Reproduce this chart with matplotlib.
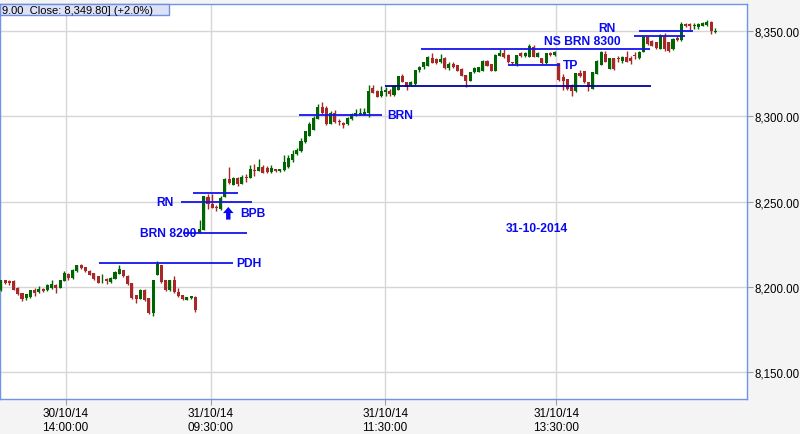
import matplotlib
matplotlib.use("Agg")
import matplotlib.pyplot as plt
import matplotlib.font_manager as fm
from matplotlib.patches import Rectangle

names = {f.name for f in fm.fontManager.ttflist}
narrow = 'Liberation Sans Narrow' if 'Liberation Sans Narrow' in names else 'Liberation Sans'

# 3-minute candles, 30/10/14 afternoon then 31/10/14
opens = [8197.9, 8203.7, 8203.3, 8203.3, 8199.2, 8196.3, 8193.4, 8194.0, 8197.9, 8196.9,
         8198.8, 8197.9, 8199.4, 8201.2, 8199.2, 8203.3, 8207.2, 8205.1, 8209.0, 8212.5,
         8211.5, 8209.0, 8208.0, 8206.1, 8203.7, 8204.7, 8202.7, 8204.7, 8207.6, 8209.6,
         8206.1, 8202.2, 8194.9, 8193.0, 8198.4, 8193.4, 8184.8, 8207.1, 8212.9, 8203.7,
         8197.9, 8203.7, 8196.9, 8194.9, 8192.4, 8193.6, 8194.2,
         8231.4, 8233.3, 8252.7, 8248.8, 8246.4, 8245.5, 8252.7, 8263.1, 8259.7, 8263.6,
         8260.5, 8264.6, 8263.6, 8268.3, 8267.9, 8270.5, 8269.5, 8267.5, 8268.9, 8267.9,
         8268.3, 8270.5, 8274.2, 8277.7, 8279.7, 8284.6, 8288.5, 8292.0, 8298.2, 8305.5,
         8305.1, 8295.7, 8302.1, 8297.3, 8296.3, 8295.3, 8298.2, 8300.4, 8301.2, 8300.8,
         8302.1, 8316.8, 8314.9, 8311.6, 8314.3, 8314.9, 8312.4, 8315.5, 8323.3, 8320.2,
         8318.2, 8318.8, 8327.2, 8328.6, 8329.6, 8334.4, 8333.5, 8331.5, 8333.9, 8328.0,
         8330.9, 8329.9, 8327.6, 8324.1, 8320.8, 8325.7, 8326.2, 8326.6, 8332.5, 8330.5,
         8326.6, 8335.4, 8337.0, 8336.0, 8331.9, 8330.5, 8337.0, 8335.4, 8335.0, 8340.3,
         8335.0, 8334.4, 8331.1, 8337.0, 8335.8, 8331.2, 8322.8, 8321.8, 8318.3, 8314.6,
         8325.4, 8326.3, 8319.9, 8316.0, 8324.8, 8330.2, 8336.5, 8327.7, 8334.0, 8334.0,
         8332.6, 8334.6, 8334.0, 8335.9, 8334.0, 8337.9, 8346.3, 8344.3, 8343.4, 8339.4,
         8347.3, 8343.4, 8339.4, 8345.7, 8344.9, 8354.1, 8354.1, 8353.1, 8352.2, 8353.1,
         8353.5, 8355.5, 8349.4]
highs = [8204.0, 8204.1, 8203.7, 8203.7, 8199.6, 8196.5, 8196.0, 8198.2, 8199.4, 8200.4,
         8199.4, 8201.6, 8204.1, 8201.8, 8204.0, 8209.0, 8207.8, 8210.2, 8212.7, 8213.1,
         8211.8, 8209.6, 8208.2, 8206.4, 8207.6, 8205.3, 8205.5, 8209.2, 8212.5, 8210.0,
         8206.7, 8202.4, 8195.1, 8198.5, 8198.6, 8193.6, 8204.0, 8215.1, 8213.0, 8204.0,
         8204.0, 8206.1, 8199.2, 8195.1, 8194.2, 8194.8, 8194.4,
         8239.0, 8253.5, 8254.6, 8254.6, 8248.0, 8253.0, 8264.0, 8270.3, 8264.2, 8264.4,
         8265.4, 8266.0, 8271.5, 8271.9, 8274.8, 8271.3, 8270.9, 8271.5, 8269.3, 8269.3,
         8277.1, 8277.3, 8280.1, 8281.6, 8287.5, 8291.4, 8296.9, 8300.0, 8307.0, 8308.6,
         8306.1, 8303.1, 8303.5, 8298.2, 8296.9, 8299.4, 8302.1, 8304.1, 8304.7, 8305.1,
         8318.4, 8318.4, 8315.3, 8317.8, 8316.9, 8315.9, 8318.2, 8323.5, 8324.7, 8320.2,
         8320.6, 8327.2, 8329.6, 8331.9, 8335.2, 8337.0, 8334.0, 8336.4, 8334.6, 8331.5,
         8331.5, 8330.3, 8328.0, 8324.1, 8325.9, 8328.6, 8328.8, 8332.7, 8333.1, 8330.7,
         8336.2, 8339.7, 8339.7, 8336.2, 8331.9, 8335.8, 8337.4, 8337.4, 8342.3, 8341.7,
         8337.4, 8334.4, 8337.2, 8337.8, 8338.4, 8331.2, 8324.8, 8321.8, 8318.9, 8325.4,
         8327.3, 8326.7, 8320.3, 8326.0, 8332.8, 8338.5, 8338.5, 8334.4, 8334.0, 8335.1,
         8335.5, 8338.5, 8335.5, 8337.5, 8338.3, 8346.9, 8346.9, 8344.7, 8343.7, 8348.2,
         8348.8, 8343.7, 8345.7, 8347.3, 8355.5, 8354.5, 8354.7, 8354.7, 8354.7, 8355.1,
         8356.6, 8356.1, 8351.7]
lows = [8197.5, 8201.4, 8201.0, 8198.0, 8195.2, 8191.4, 8192.0, 8193.7, 8194.3, 8196.3,
        8196.9, 8197.5, 8198.8, 8196.5, 8199.0, 8203.1, 8203.7, 8204.7, 8208.8, 8210.6,
        8208.8, 8206.7, 8203.7, 8202.0, 8202.2, 8201.8, 8202.2, 8204.3, 8207.2, 8205.9,
        8201.2, 8193.0, 8190.4, 8192.8, 8191.8, 8183.8, 8182.6, 8207.0, 8202.2, 8197.5,
        8197.5, 8196.3, 8194.2, 8192.0, 8192.0, 8192.6, 8185.2,
        8231.4, 8233.1, 8245.8, 8246.0, 8244.5, 8245.3, 8252.5, 8260.5, 8259.5, 8259.1,
        8260.1, 8261.7, 8263.6, 8265.0, 8267.9, 8266.6, 8266.6, 8267.0, 8267.5, 8267.5,
        8267.9, 8269.9, 8273.4, 8277.3, 8279.3, 8284.2, 8288.5, 8291.8, 8298.2, 8301.2,
        8294.9, 8295.3, 8296.3, 8294.9, 8293.0, 8295.1, 8297.6, 8300.0, 8300.8, 8300.8,
        8299.8, 8313.9, 8311.0, 8311.0, 8312.0, 8312.0, 8312.0, 8315.3, 8319.8, 8315.5,
        8317.8, 8318.6, 8325.7, 8327.6, 8329.4, 8331.1, 8330.5, 8331.1, 8327.8, 8327.2,
        8328.0, 8326.4, 8323.3, 8317.4, 8320.6, 8325.5, 8326.0, 8326.4, 8329.2, 8326.4,
        8326.4, 8335.4, 8334.4, 8331.1, 8330.0, 8329.6, 8335.0, 8335.0, 8335.0, 8334.8,
        8334.8, 8330.5, 8330.9, 8335.4, 8335.4, 8320.9, 8315.6, 8315.6, 8311.7, 8314.4,
        8322.8, 8319.5, 8315.0, 8315.8, 8324.6, 8330.2, 8331.6, 8327.5, 8327.1, 8331.6,
        8331.2, 8331.6, 8330.6, 8333.6, 8333.8, 8337.5, 8341.8, 8341.0, 8339.4, 8339.4,
        8338.5, 8337.9, 8339.0, 8344.3, 8344.3, 8352.2, 8350.2, 8351.2, 8351.2, 8352.7,
        8353.1, 8348.2, 8348.8]
closes = [8203.7, 8202.4, 8202.0, 8198.4, 8195.5, 8193.0, 8195.9, 8197.9, 8196.3, 8198.8,
          8197.3, 8201.2, 8201.4, 8199.4, 8203.7, 8208.0, 8205.1, 8210.0, 8212.5, 8211.0,
          8209.0, 8207.1, 8204.7, 8202.4, 8203.9, 8203.1, 8205.1, 8208.6, 8210.2, 8206.1,
          8201.8, 8193.4, 8193.0, 8198.3, 8192.0, 8184.6, 8203.7, 8213.5, 8202.7, 8197.9,
          8203.7, 8196.9, 8194.3, 8193.0, 8194.0, 8194.6, 8186.1,
          8233.7, 8253.3, 8248.4, 8246.0, 8246.0, 8252.3, 8263.1, 8260.7, 8263.6, 8260.5,
          8264.4, 8263.6, 8268.9, 8267.9, 8270.3, 8267.0, 8267.5, 8269.9, 8267.9, 8268.9,
          8273.4, 8275.4, 8278.1, 8280.1, 8285.5, 8291.4, 8295.3, 8298.8, 8305.5, 8301.6,
          8295.3, 8302.1, 8296.9, 8296.5, 8294.9, 8298.8, 8301.2, 8301.6, 8302.1, 8302.7,
          8314.9, 8313.9, 8311.4, 8314.9, 8315.1, 8313.0, 8317.8, 8323.3, 8319.8, 8317.4,
          8320.2, 8327.0, 8328.6, 8331.5, 8335.0, 8331.1, 8331.1, 8333.5, 8328.2, 8330.9,
          8328.6, 8326.6, 8323.7, 8320.8, 8325.7, 8328.0, 8328.6, 8332.5, 8329.6, 8326.6,
          8336.0, 8337.0, 8335.0, 8331.5, 8331.1, 8335.8, 8335.4, 8337.0, 8341.3, 8335.0,
          8337.0, 8331.1, 8337.0, 8335.8, 8337.4, 8321.5, 8320.9, 8316.0, 8314.6, 8325.4,
          8323.8, 8319.9, 8317.0, 8325.8, 8332.6, 8337.5, 8332.0, 8334.0, 8327.7, 8333.6,
          8334.6, 8332.0, 8332.6, 8335.1, 8337.9, 8346.3, 8342.4, 8341.4, 8339.8, 8347.7,
          8339.4, 8338.5, 8345.3, 8344.9, 8354.1, 8352.7, 8353.1, 8353.7, 8354.1, 8354.5,
          8355.5, 8350.2, 8349.8]

tick_pos = [15.3, 49.6, 90.9, 131.4]
tick_labels = ['30/10/14\n14:00:00', '31/10/14\n09:30:00', '31/10/14\n11:30:00', '31/10/14\n13:30:00']
yticks = [8150, 8200, 8250, 8300, 8350]

# drawn levels: (start candle, end candle, price, colour)
levels = [(23.1, 54.8, 8214.1, '#1414f0'),
          (43.2, 58.3, 8231.8, '#1414f0'),
          (42.7, 59.5, 8249.8, '#1414f0'),
          (45.5, 56.2, 8254.8, '#1414f0'),
          (70.6, 90.2, 8300.8, '#1414f0'),
          (90.9, 153.9, 8317.5, '#0000a0'),
          (99.5, 153.6, 8339.5, '#1414f0'),
          (120.0, 132.3, 8330.0, '#1414f0'),
          (151.0, 163.8, 8349.8, '#1414f0'),
          (149.8, 161.9, 8346.9, '#1414f0')]
labels = [(55.7, 8214.1, 'PDH', 'left'),
          (46.3, 8231.8, 'BRN 8200', 'right'),
          (40.8, 8249.8, 'RN', 'right'),
          (56.6, 8243.0, 'BPB', 'left'),
          (91.4, 8300.8, 'BRN', 'left'),
          (128.5, 8344.2, 'NS BRN 8300', 'left'),
          (133.0, 8330.0, 'TP', 'left'),
          (141.3, 8351.6, 'RN', 'left'),
          (126.7, 8234.5, '31-10-2014', 'center')]

green = '#006400'
red = '#a82828'

fig = plt.figure(figsize=(8, 4.35), dpi=100, facecolor='#f4f4f4')
ax = fig.add_axes([0, 35 / 435, 747 / 800, 395 / 435])
ax.set_facecolor('white')

for i in range(len(opens)):
    o, h, l, c = opens[i], highs[i], lows[i], closes[i]
    col = green if c >= o else red
    ax.vlines(i, l, h, color=col, lw=1, zorder=3)
    body = max(abs(c - o), 0.5)
    ax.bar(i, body, bottom=min(o, c), width=0.72, color=col, lw=0, zorder=3)

for x0, x1, y, col in levels:
    ax.hlines(y, x0, x1, color=col, lw=1.3, zorder=4)

for x, y, txt, ha in labels:
    ax.text(x, y, txt, ha=ha, va='center', color='#0a0af0', fontsize=8.7,
            fontweight='bold', family='Liberation Sans', zorder=5)

# BPB arrow
ax.annotate('', xy=(53.8, 8246.8), xytext=(53.8, 8239.4),
            arrowprops=dict(arrowstyle='simple,head_width=0.95,head_length=0.55,tail_width=0.4',
                            mutation_scale=8, color='#0a0af0', lw=0, shrinkA=0, shrinkB=0),
            zorder=5)

ax.set_xlim(-0.2, 176.5)
ax.set_ylim(8134.2, 8365.8)
ax.yaxis.tick_right()
ax.set_yticks(yticks)
ax.set_yticklabels(['{:,.2f}'.format(v) for v in yticks], family='Liberation Sans', fontsize=8.3)
ax.set_xticks(tick_pos)
ax.set_xticklabels(tick_labels, family=narrow, fontsize=8.5, linespacing=1.25)
ax.tick_params(axis='both', length=4, color='#a0a0a0', pad=1.5)
ax.grid(True, color='#d6d6d6', lw=1, zorder=0)
ax.set_axisbelow(True)
for s in ax.spines.values():
    s.set_color('#6f93e8')
    s.set_linewidth(1)

# header box
fig.add_artist(Rectangle((0, (435 - 16) / 435), 169 / 800, 11 / 435, transform=fig.transFigure,
                         fc='#dde1f7', ec='#6f8fe0', lw=1, zorder=5))
fig.text(2 / 800, (435 - 10.5) / 435, '9.00  Close: 8,349.80] (+2.0%)', ha='left', va='center',
         fontsize=8, family='Liberation Sans', zorder=6)

fig.savefig('out.png', dpi=100, facecolor=fig.get_facecolor())
